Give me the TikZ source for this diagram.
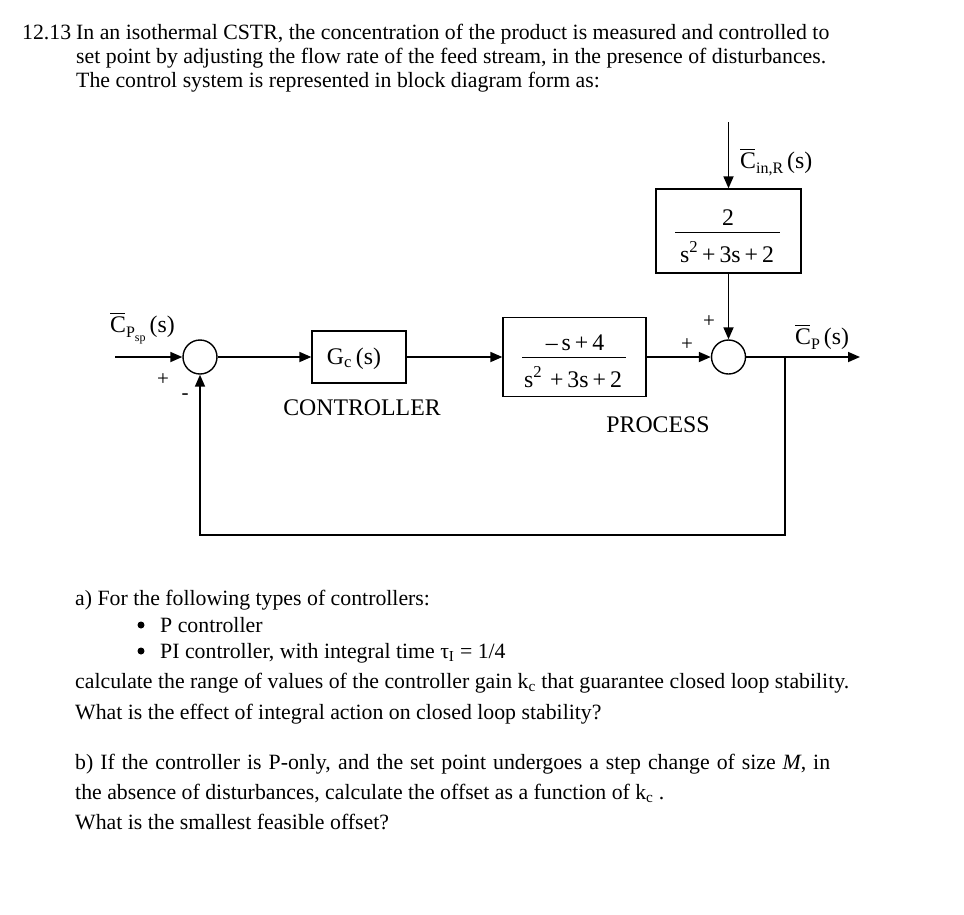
\documentclass[tikz,border=0pt]{standalone}
\usepackage{fontspec}
\setmainfont{Liberation Serif}
\usetikzlibrary{arrows.meta}
\newcommand\Cbar{\leavevmode\rlap{\raisebox{0.74em}{\rule{0.64em}{0.05em}}}C}
\newcommand\lsub[1]{\raisebox{-0.22em}{\fontsize{16}{18}\selectfont #1}}
\newcommand\llsub[1]{\raisebox{-0.25em}{\fontsize{12}{14}\selectfont #1}}
\begin{document}
\begin{tikzpicture}[x=1pt,y=-1pt,
  blk/.style={draw, line width=1.3pt, inner sep=0pt},
  sumc/.style={circle, draw, line width=1.4pt, minimum size=34pt, inner sep=0pt},
  ln/.style={line width=1.7pt},
  con/.style={line width=1.7pt, -{Triangle[length=12pt,width=10pt]}},
  dtxt/.style={font=\fontsize{23.8}{28}\selectfont, inner sep=0pt, anchor=base},
  sgn/.style={font=\fontsize{21}{25}\selectfont, inner sep=0pt},
  dot/.style={circle, fill, minimum size=7pt, inner sep=0pt},
  body/.style={font=\fontsize{21.8}{26}\selectfont, anchor=base west, inner sep=0pt}]
\useasboundingbox (0,0) rectangle (964,914);
\fill[white] (0,0) rectangle (964,914);

% header
\node[body] (h0) at (22,39) {12.13};
\node[body] (h1) at (76,39) {In an isothermal CSTR, the concentration of the product is measured and controlled to};
\node[body] (h2) at (76,63) {set point by adjusting the flow rate of the feed stream, in the presence of disturbances.};
\node[body] (h3) at (76,87) {The control system is represented in block diagram form as:};

% blocks
\node[sumc] (s1) at (200,357) {};
\node[sumc] (s2) at (728.5,357) {};
\node[blk, minimum width=94pt, minimum height=52pt] (gc) at (359,357) {};
\node[dtxt] (gct) at (354,364) {G\textsubscript{c}\,(s)};
\node[blk, minimum width=143pt, minimum height=79pt] (proc) at (574.5,357) {};
\node[dtxt] (pn) at (573,350) {\,–\,s\,+\,4};
\node[dtxt] (pd) at (573,387) {s\textsuperscript{2}\,\,+\,3s\,+\,2};
\draw[line width=0.9pt] (522,357) -- (626,357);
\node[blk, minimum width=145pt, minimum height=84pt] (dist) at (728.5,231) {};
\node[dtxt] (dn) at (728,225) {2};
\node[dtxt] (dd) at (727,262) {s\textsuperscript{2}\,+\,3s\,+\,2};
\draw[line width=0.9pt] (675,232) -- (780,232);

% coordinates
\coordinate (in) at (115,357);
\coordinate (top) at (728.5,122);
\coordinate (out) at (860,357);
\coordinate (br) at (785,357);
\coordinate (fb) at (785,535);

% connectors
\draw[con] (in) -- (s1.west);
\draw[con] (s1.east) -- (gc.west);
\draw[con] (gc.east) -- (proc.west);
\draw[con] (proc.east) -- (s2.west);
\draw[con] (top) -- (dist.north);
\draw[con] (dist.south) -- (s2.north);
\draw[con] (s2.east) -- (out);
\draw[con] (br) -- (fb) -| (s1.south);

% labels
\node[dtxt, anchor=base west] (lsp) at (110,332) {\Cbar\lsub{P\llsub{sp}}\,(s)};
\node[dtxt, anchor=base west] (lin) at (740,168) {\Cbar\lsub{in,R}\,(s)};
\node[dtxt, anchor=base west] (lout) at (795,344) {\Cbar\lsub{P}\,(s)};
\node[sgn] (p1) at (163,380) {+};
\node[sgn] (m1) at (185,397) {-};
\node[sgn] (p2) at (687,345) {+};
\node[sgn] (p3) at (709,322) {+};
\node[dtxt] (ctl) at (362,415) {CONTROLLER};
\node[dtxt] (prc) at (658,432) {PROCESS};

% questions
\node[body] (a0) at (75,605) {a) For the following types of controllers:};
\node[dot] (b1) at (141,625) {};
\node[body] (a1) at (160,632) {P controller};
\node[dot] (b2) at (141,651) {};
\node[body] (a2) at (160,658) {PI controller, with integral time τ\textsubscript{I} = 1/4};
\node[body] (a3) at (75,688) {calculate the range of values of the controller gain k\textsubscript{c} that guarantee closed loop stability.};
\node[body] (a4) at (75,719) {What is the effect of integral action on closed loop stability?};
\node[body] (q1) at (75,769) {\makebox[755pt][s]{b) If the controller is P-only, and the set point undergoes a step change of size \textit{M}, in}};
\node[body] (q2) at (75,799) {the absence of disturbances, calculate the offset as a function of k\textsubscript{c} .};
\node[body] (q3) at (75,829) {What is the smallest feasible offset?};
\end{tikzpicture}
\end{document}
